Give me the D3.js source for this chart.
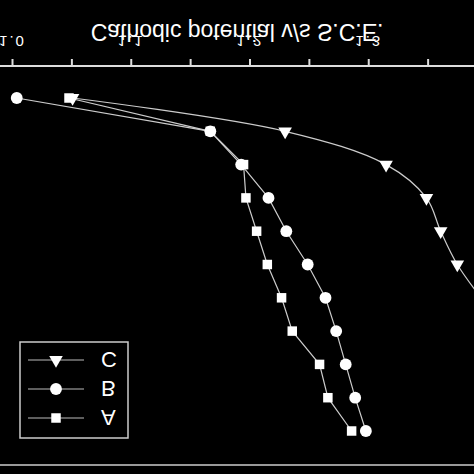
<!DOCTYPE html>
<html><head><meta charset="utf-8">
<script src="https://cdn.jsdelivr.net/npm/d3@7"></script>
<style>body{margin:0;background:#000}svg{display:block}text{font-family:"Liberation Sans",Arial,sans-serif;fill:#fff}</style>
</head><body>
<svg id="chart" width="474" height="474"></svg>
<script>
const rows = [0, 1, 2, 3, 4, 5, 6, 7, 8, 9, 10]
const seriesA = [1.048, 1.167, 1.195, 1.197, 1.206, 1.215, 1.227, 1.236, 1.259, 1.266, 1.286]
const seriesB = [1.004, 1.167, 1.193, 1.216, 1.231, 1.249, 1.264, 1.273, 1.281, 1.289, 1.298]
const seriesC = [1.051, 1.230, 1.315, 1.349, 1.361, 1.375, 1.395]
const xTicks = [1.0, 1.1, 1.2, 1.3, 1.4]
const title = 'Cathodic potential v/s S.C.E.'

const svg = d3.select('#chart')
svg.append('rect').attr('width', 474).attr('height', 474).attr('fill', '#000')

const x = d3.scaleLinear().domain([1.0, 1.4]).range([12, 487])
const y = d3.scaleLinear().domain([0, 10]).range([98, 431])

svg.append('defs').append('clipPath').attr('id', 'clip')
  .append('rect').attr('x', 0).attr('y', 66).attr('width', 474).attr('height', 400)

// axis at top, labels flipped like the reference
const ax = svg.append('g').attr('transform', 'translate(0,66)')
  .call(d3.axisTop(x).tickValues(d3.range(1.0, 1.41, 0.05)).tickSize(6)
    .tickFormat(d => (xTicks.some(t => Math.abs(t - d) < 1e-6) ? d.toFixed(1) : '')))
ax.select('.domain').attr('stroke', '#ddd').attr('stroke-width', 2).attr('d', 'M0,0H474')
ax.selectAll('.tick line').attr('stroke', '#ddd').attr('stroke-width', 2).attr('y1', 0).attr('y2', -7)
ax.selectAll('.tick text').attr('font-size', 15).attr('fill', '#fff')
  .attr('y', 0).attr('dy', 0).attr('letter-spacing', 2)
  .attr('transform', 'translate(0,-30) scale(1,-1)')

svg.append('text').attr('transform', 'translate(237,7) scale(1,-1)')
  .attr('text-anchor', 'middle').attr('font-size', 23).attr('y', -17).text(title)

svg.append('line').attr('x1', 0).attr('x2', 474).attr('y1', 465).attr('y2', 465)
  .attr('stroke', '#ccc').attr('stroke-width', 1.5)

const plot = svg.append('g').attr('clip-path', 'url(#clip)')
const lineL = d3.line().x(d => x(d[1])).y(d => y(d[0]))
const lineC = d3.line().x(d => x(d[1])).y(d => y(d[0])).curve(d3.curveCatmullRom)
const zipped = s => s.map((v, i) => [rows[i], v])

const series = [
  { name: 'A', data: zipped(seriesA), sym: d3.symbolSquare, size: 90, line: lineL },
  { name: 'B', data: zipped(seriesB), sym: d3.symbolCircle, size: 110, line: lineL },
  { name: 'C', data: zipped(seriesC), sym: d3.symbolTriangle, size: 80, line: lineC, flip: true }
]
series.forEach(s => {
  plot.append('path').attr('d', s.line(s.data)).attr('fill', 'none')
    .attr('stroke', '#ccc').attr('stroke-width', 1.2)
  plot.selectAll(null).data(s.data).join('path')
    .attr('d', d3.symbol().type(s.sym).size(s.size))
    .attr('transform', d => `translate(${x(d[1])},${y(d[0])})${s.flip ? ' scale(1,-1)' : ''}`)
    .attr('fill', '#fff')
})

// legend
const lg = svg.append('g').attr('transform', 'translate(20,342)')
lg.append('rect').attr('width', 108).attr('height', 96).attr('fill', 'none')
  .attr('stroke', '#ccc').attr('stroke-width', 1.5)
;[series[2], series[1], series[0]].forEach((s, i) => {
  const gy = 18 + i * 29
  lg.append('line').attr('x1', 8).attr('x2', 64).attr('y1', gy).attr('y2', gy)
    .attr('stroke', '#bbb').attr('stroke-width', 1.2)
  lg.append('path').attr('d', d3.symbol().type(s.sym).size(s.size))
    .attr('transform', `translate(36,${gy})${s.flip ? ' scale(1,-1)' : ''}`).attr('fill', '#fff')
  lg.append('text').attr('transform', `translate(81,${gy}) scale(1,-1)`)
    .attr('font-size', 22).attr('dy', '0.36em').text(s.name)
})
</script>
</body></html>
